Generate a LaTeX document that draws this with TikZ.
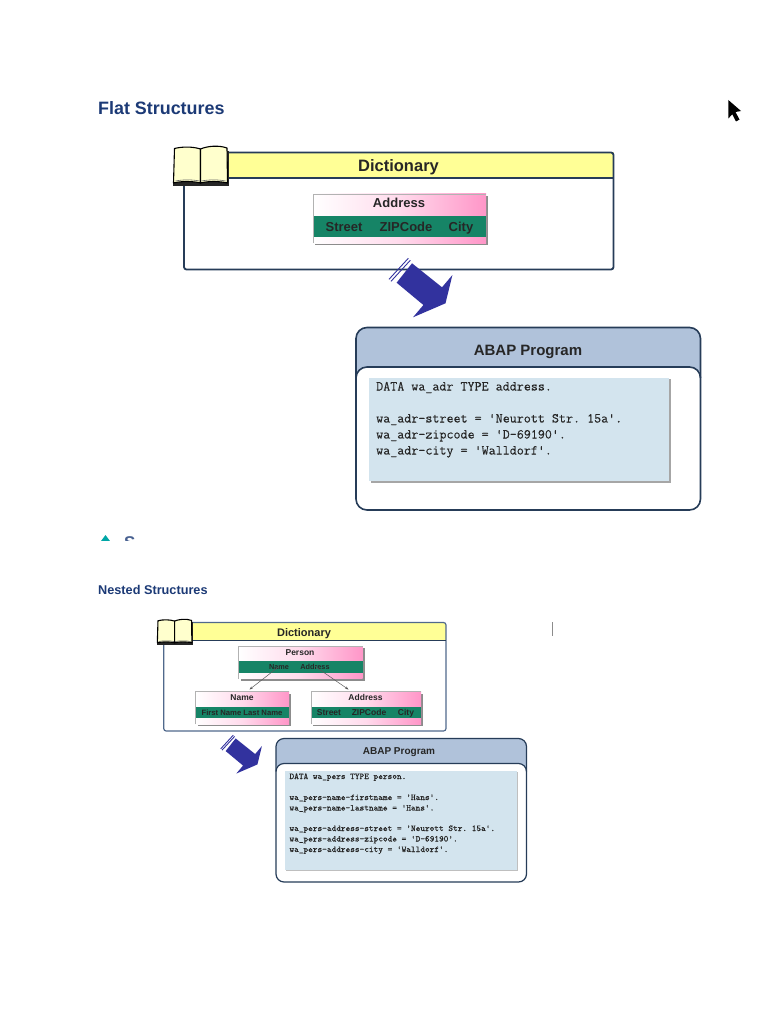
\documentclass[tikz,border=0pt]{standalone}
\usepackage{fontspec}
\setmainfont{Liberation Sans}
\setmonofont[FakeBold=0.25]{Latin Modern Mono}
\definecolor{navy}{RGB}{28,58,118}
\definecolor{edgeA}{RGB}{38,60,88}
\definecolor{edgeB}{RGB}{80,105,140}
\definecolor{yel}{RGB}{255,255,150}
\definecolor{cream}{RGB}{255,255,205}
\definecolor{pinkish}{RGB}{255,150,200}
\definecolor{band}{RGB}{22,132,102}
\definecolor{abaphead}{RGB}{176,194,218}
\definecolor{panel}{RGB}{211,228,238}
\definecolor{arrowblue}{RGB}{50,50,158}
\tikzset{
  heading/.style={font=\bfseries\fontsize{#1}{#1}\selectfont,text=navy,anchor=base west,inner sep=0},
  label/.style={font=\bfseries\fontsize{#1}{#1}\selectfont,text=black!85,anchor=base,inner sep=0},
  code/.style={font=\ttfamily\fontsize{#1}{#1}\selectfont,text=black!85,anchor=base west,inner sep=0},
  conn/.style={draw=black!65,line width=0.5pt,-{Stealth[length=3.5pt,width=2.6pt]}},
}
\usetikzlibrary{arrows.meta}
% name, x1, y1, x2, y2, band top, band bottom
\newcommand{\structbox}[7]{
  \fill[black!45] (#2+2,#3+2) rectangle (#4+2,#5+2);
  \shade[left color=white,right color=pinkish,middle color=pinkish!35] (#2,#3) rectangle (#4,#5);
  \fill[band] (#2,#6) rectangle (#4,#7);
  \draw[black!30,line width=0.4pt] (#2,#5) -- (#2,#3) -- (#4,#3);
  \coordinate (#1) at ({(#2+#4)/2},#3);
}
% book: x, y, scale
\newcommand{\bookicon}[3]{
  \begin{scope}[shift={(#1,#2)},scale=#3]
    \fill[black!85] (0,36) -- (0,41) -- (56,41) -- (56,36) -- cycle;
    \fill[black!85] (54,6) rectangle (56,41);
    \draw[black,line width=1.1pt,fill=cream,line join=round]
      (2,3.5) .. controls (10,1.5) and (20,1.5) .. (28,4) -- (28,38) .. controls (20,36) and (9,36) .. (1,38) -- cycle;
    \draw[black,line width=1.1pt,fill=cream,line join=round]
      (28,4) .. controls (35,1) and (46,0) .. (54.5,3) -- (55,38) .. controls (46,36) and (36,36) .. (28,38) -- cycle;
    \draw[black!60,line width=0.6pt] (3,36) .. controls (10,34.5) and (20,34.5) .. (27,36);
    \draw[black!60,line width=0.6pt] (29,36) .. controls (36,34.5) and (46,34.5) .. (53,36);
  \end{scope}
}
% big arrow: x, y, scale (origin at 386.7,258)
\newcommand{\bigarrow}[3]{
  \begin{scope}[shift={(#1,#2)},scale=#3]
    \fill[arrowblue] (25.3,5.3) -- (55.3,29.3) -- (65.7,17) -- (58.8,45.3) -- (26.3,59.3) -- (36.7,47) -- (9.9,24.7) -- cycle;
    \draw[arrowblue,line width=0.9pt] (21.6,0.3) -- (2.3,21.3);
    \draw[arrowblue,line width=0.9pt] (23.6,2.3) -- (4.3,23.3);
  \end{scope}
}
% name, x1, y1, x2, y2, header bottom, radius, line width
\newcommand{\abapbox}[8]{
  \fill[abaphead,rounded corners=#7] (#2,#3) rectangle (#4,#6+#7);
  \fill[white,rounded corners=#7] (#2,#6) rectangle (#4,#5);
  \draw[edgeA,line width=#8,rounded corners=#7] (#2,#6+#7) -- (#2,#6) -- (#4,#6) -- (#4,#6+#7);
  \draw[edgeA,line width=#8,rounded corners=#7] (#2,#3) rectangle (#4,#5);
  \coordinate (#1) at (#2,#3);
}
\begin{document}
\begin{tikzpicture}[x=1pt,y=-1pt]
\useasboundingbox (0,0) rectangle (768,1024);
\fill[white] (0,0) rectangle (768,1024);

% cursor
\fill[black] (728.3,100) -- (728.3,118.5) -- (732.3,114.3) -- (736,121.5) -- (739.5,119.5) -- (735.5,112) -- (741,111) -- cycle;

% ---------- Flat structures
\node[heading=17.9] (flatTitle) at (98,114.5) {Flat Structures};

\fill[yel] (215,152.5) rectangle (613.5,178);
\draw[edgeA,line width=1.8pt,rounded corners=2.5pt] (215,152.5) -- (613.5,152.5) -- (613.5,269.5) -- (184,269.5) -- (184,180);
\draw[edgeA,line width=1.3pt] (215,178) -- (613.5,178);
\bookicon{172.5}{145}{1}
\node[label=16.5] (dictA) at (398.5,172) {Dictionary};

\structbox{addrA}{313}{194}{486}{243}{216}{237}
\node[label=13] (addrTitle) at (399,207.5) {Address};
\node[label=13] (streetA) at (344,232) {Street};
\node[label=13] (zipA) at (406,232) {ZIPCode};
\node[label=13] (cityA) at (461,232) {City};

\bigarrow{386.7}{258}{1}

\abapbox{abapA}{356}{327.5}{700.5}{510}{367}{11}{1.6pt}
\node[label=15] (abapAT) at (528,355) {ABAP Program};
\fill[black!35] (371,379) rectangle (670.5,482.5);
\fill[panel] (369,377.5) rectangle (669,481);
\node[code=13.65] (a1) at (376,390.5) {DATA wa\_adr TYPE address.};
\node[code=13.65] (a2) at (376,422.5) {wa\_adr-street = 'Neurott Str. 15a'.};
\node[code=13.65] (a3) at (376,438.5) {wa\_adr-zipcode = 'D-69190'.};
\node[code=13.65] (a4) at (376,454.5) {wa\_adr-city = 'Walldorf'.};

% ---------- cut-off heading remnant
\begin{scope}
  \clip (90,533) rectangle (230,540);
  \fill[teal!70!cyan] (105.5,535) -- (101,541) -- (110,541) -- cycle;
  \node[heading=17,text=navy!80] (cutS) at (124,548) {S};
\end{scope}

% ---------- Nested structures
\node[heading=12.7] (nestTitle) at (98,594.5) {Nested Structures};
\draw[black!45,line width=0.6pt] (552.5,622) -- (552.5,636);

\fill[yel] (185,622.5) rectangle (446,640.5);
\draw[edgeB,line width=1.2pt,rounded corners=2.5pt] (185,622.5) -- (446,622.5) -- (446,731) -- (163.7,731) -- (163.7,644);
\draw[edgeA,line width=1pt] (185,640.5) -- (446,640.5);
\bookicon{156.7}{618.5}{0.64}
\node[label=11] (dictB) at (304,636) {Dictionary};

\structbox{personBox}{238.5}{646}{362.5}{678.5}{661}{672.7}
\node[label=8.5] (personT) at (300,655.5) {Person};
\node[label=7.3] (pName) at (279,669) {Name};
\node[label=7.3] (pAddr) at (315,669) {Address};

\structbox{nameBox}{195.5}{691.5}{289}{724}{706.7}{718}
\node[label=8.5] (nameT) at (242,700.5) {Name};
\node[label=7.7] (firstLast) at (242,715) {First Name Last Name};

\structbox{addrBox}{310.7}{691.5}{421}{724}{706.7}{718}
\node[label=8.5] (addrT) at (365.5,700.5) {Address};
\node[label=8.5] (streetB) at (329,715.5) {Street};
\node[label=8.5] (zipB) at (369,715.5) {ZIPCode};
\node[label=8.5] (cityB) at (406,715.5) {City};

\coordinate (nameEnd) at (249.5,689.5);
\coordinate (addrEnd) at (348.5,689.5);
\draw[conn] (pName.center) -- (nameEnd);
\draw[conn] (pAddr.center) -- (addrEnd);

\bigarrow{219.2}{735}{0.65}

\abapbox{abapB}{276}{738.5}{526.5}{882}{763.5}{8}{1.2pt}
\node[label=10] (abapBT) at (399,754.5) {ABAP Program};
\fill[black!25] (286.3,771.7) rectangle (517.7,871);
\fill[panel] (285.3,770.7) rectangle (516.7,870);
\node[code=8.9] (b1) at (289.3,779) {DATA wa\_pers TYPE person.};
\node[code=8.9] (b2) at (289.3,800) {wa\_pers-name-firstname = 'Hans'.};
\node[code=8.9] (b3) at (289.3,810.5) {wa\_pers-name-lastname = 'Hans'.};
\node[code=8.9] (b4) at (289.3,831) {wa\_pers-address-street = 'Neurott Str. 15a'.};
\node[code=8.9] (b5) at (289.3,841.5) {wa\_pers-address-zipcode = 'D-69190'.};
\node[code=8.9] (b6) at (289.3,852) {wa\_pers-address-city = 'Walldorf'.};
\end{tikzpicture}
\end{document}
